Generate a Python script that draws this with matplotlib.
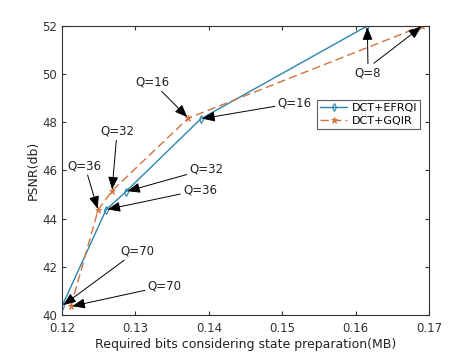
import matplotlib
matplotlib.use('Agg')
import matplotlib.pyplot as plt

# data
q_labels = ['Q=70', 'Q=36', 'Q=32', 'Q=16', 'Q=8']
efrqi_bits = [0.1200, 0.1260, 0.1287, 0.1389, 0.1616]
efrqi_psnr = [40.37, 44.37, 45.12, 48.14, 52.0]
gqir_bits = [0.1212, 0.1249, 0.1268, 0.1372, 0.1691]
gqir_psnr = [40.35, 44.35, 45.15, 48.17, 52.0]

# annotation text positions (data coords) for each Q label
efrqi_text = [(0.1302, 42.66), (0.1388, 45.19), (0.1397, 46.06), (0.1517, 48.80), (0.1617, 50.05)]
gqir_text = [(0.1340, 41.20), (0.1231, 46.19), (0.1275, 47.64), (0.1323, 49.67), (0.1617, 50.05)]

blue = '#2a86ad'
orange = '#cf7440'

plt.rcParams['font.family'] = 'DejaVu Sans'
fig = plt.figure(figsize=(4.74, 3.55), dpi=100)
ax = fig.add_axes([0.131, 0.113, 0.774, 0.814])

ax.plot(efrqi_bits, efrqi_psnr, color=blue, lw=1.0, marker='d', ms=4,
        mfc='none', mew=0.8, label='DCT+EFRQI')
ax.plot(gqir_bits, gqir_psnr, color=orange, lw=1.0, ls=(0, (6, 3)), marker='*',
        ms=5, mew=0.6, label='DCT+GQIR')

arrow = dict(arrowstyle='-|>,head_length=0.55,head_width=0.22', color='black', lw=0.7,
             mutation_scale=14, shrinkA=0, shrinkB=1)

for i in range(len(q_labels)):
    ax.annotate(q_labels[i], xy=(efrqi_bits[i], efrqi_psnr[i]), xytext=efrqi_text[i],
                fontsize=8.5, ha='center', va='center', color='#222222',
                arrowprops=arrow)
    show = i != 4  # Q=8 text shared by both arrows
    ax.annotate(q_labels[i] if show else '', xy=(gqir_bits[i], gqir_psnr[i]),
                xytext=gqir_text[i] if show else (0.1625, 50.45),
                fontsize=8.5, ha='center', va='center', color='#222222',
                arrowprops=arrow)

ax.set_xlim(0.12, 0.17)
ax.set_ylim(40, 52)
ax.set_xticks([0.12, 0.13, 0.14, 0.15, 0.16, 0.17])
ax.set_xticklabels(['0.12', '0.13', '0.14', '0.15', '0.16', '0.17'])
ax.set_yticks([40, 42, 44, 46, 48, 50, 52])
ax.tick_params(direction='in', labelsize=8.5, length=3, colors='#333333', top=True, right=True)
ax.tick_params(axis='x', pad=5)
ax.tick_params(labeltop=False, labelright=False)
for s in ax.spines.values():
    s.set_color('#333333')
    s.set_linewidth(0.8)

ax.set_xlabel('Required bits considering state preparation(MB)', fontsize=9, color='#222222', labelpad=2)
ax.set_ylabel('PSNR(db)', fontsize=9, color='#222222', labelpad=2)

leg = ax.legend(loc='upper left', bbox_to_anchor=(0.695, 0.745), fontsize=8, frameon=True,
                fancybox=False, edgecolor='#333333', borderpad=0.3, handlelength=2.4,
                handletextpad=0.4, labelspacing=0.25, borderaxespad=0)
leg.get_frame().set_linewidth(0.8)

fig.savefig('out.png', dpi=100)
